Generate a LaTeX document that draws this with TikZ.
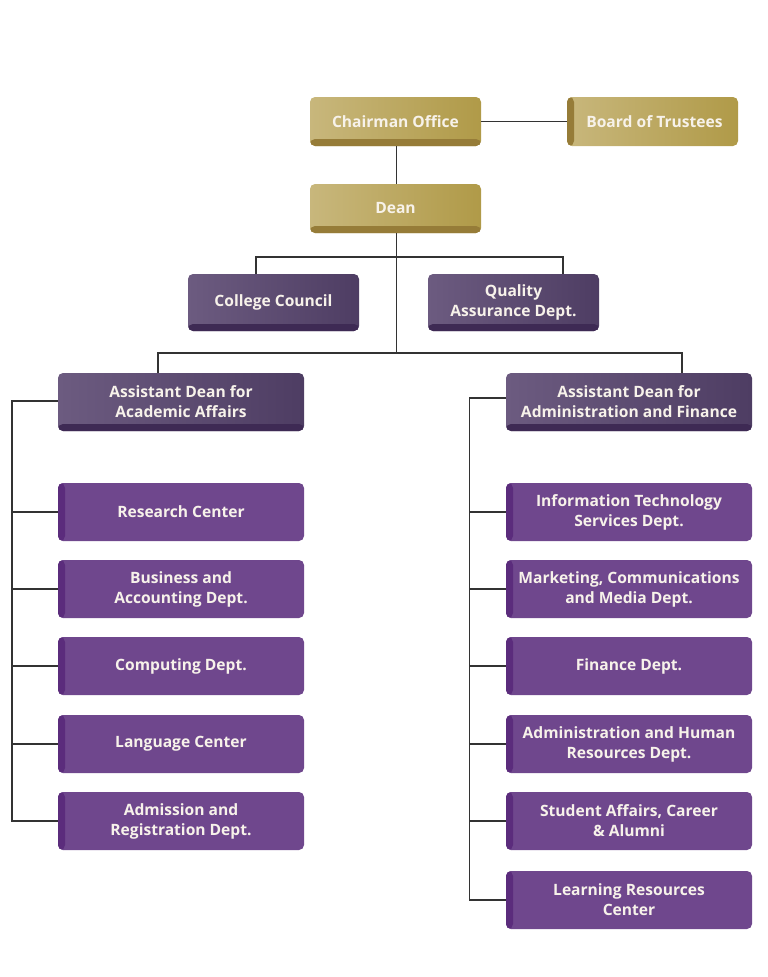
\documentclass[tikz,border=0pt]{standalone}
\usepackage{fontspec}
\setmainfont{Open Sans}
\definecolor{goldL}{HTML}{C8B77C}
\definecolor{goldD}{HTML}{B09A48}
\definecolor{goldS}{HTML}{967C38}
\definecolor{plumL}{HTML}{6C5B80}
\definecolor{plumD}{HTML}{4E3D63}
\definecolor{plumS}{HTML}{3E2A54}
\definecolor{itemF}{HTML}{6F478D}
\definecolor{itemS}{HTML}{5B2C7C}
\definecolor{lineC}{HTML}{333333}
\definecolor{txtC}{HTML}{F7F2EA}
\begin{document}
\begin{tikzpicture}[x=1pt,y=1pt,
  base/.style={rounded corners=5pt, inner sep=0pt, align=center, text=txtC,
    font=\fontsize{15.6}{20}\selectfont\bfseries},
  bstrip/.style={path picture={\fill[#1] (path picture bounding box.south west) rectangle ([yshift=7pt]path picture bounding box.south east);}},
  lstrip/.style={path picture={\fill[#1] (path picture bounding box.south west) rectangle ([xshift=7pt]path picture bounding box.north west);}},
  goldbox/.style={base, minimum width=171pt, minimum height=49pt, left color=goldL, right color=goldD, bstrip=goldS},
  goldside/.style={base, minimum width=171pt, minimum height=49pt, left color=goldL, right color=goldD, lstrip=goldS},
  plumbox/.style={base, minimum width=171pt, minimum height=57pt, left color=plumL, right color=plumD, bstrip=plumS},
  plumwide/.style={base, minimum width=246pt, minimum height=58pt, left color=plumL, right color=plumD, bstrip=plumS},
  itembox/.style={base, minimum width=246pt, minimum height=58pt, fill=itemF, lstrip=itemS},
  conn/.style={draw=lineC, line width=1.2pt}
]
\useasboundingbox (0,0) rectangle (768,-977);

\node[goldbox] (chair) at (395.5,-121.5) {Chairman Office};
\node[goldside] (board) at (652.5,-121.5) {\hspace*{4pt}Board of Trustees};
\node[goldbox] (dean) at (395.5,-208.5) {Dean};
\node[plumbox] (cc) at (273.5,-302.5) {College Council};
\node[plumbox] (qa) at (513.5,-302.5) {Quality\\Assurance Dept.};
\node[plumwide] (aa) at (181,-402) {Assistant Dean for\\Academic Affairs};
\node[plumwide] (af) at (629,-402) {Assistant Dean for\\Administration and Finance};

\node[itembox] (l1) at (181,-512) {Research Center};
\node[itembox] (l2) at (181,-589) {Business and\\Accounting Dept.};
\node[itembox] (l3) at (181,-666) {Computing Dept.};
\node[itembox] (l4) at (181,-744) {Language Center};
\node[itembox] (l5) at (181,-821) {Admission and\\Registration Dept.};

\node[itembox] (r1) at (629,-512) {Information Technology\\Services Dept.};
\node[itembox] (r2) at (629,-589) {Marketing, Communications\\and Media Dept.};
\node[itembox] (r3) at (629,-666) {Finance Dept.};
\node[itembox] (r4) at (629,-744) {Administration and Human\\Resources Dept.};
\node[itembox] (r5) at (629,-821) {Student Affairs, Career\\\&\ Alumni};
\node[itembox] (r6) at (629,-900) {Learning Resources\\Center};

\coordinate (j1) at (396.5,-257);
\coordinate (j2) at (396.5,-353);
\coordinate (lb) at (12,-401);
\coordinate (rb) at (469.5,-398);

\draw[conn] (chair) -- (board);
\draw[conn] ([xshift=1pt]chair.south) -- ([xshift=1pt]dean.north);
\draw[conn] ([xshift=1pt]dean.south) -- (j2);
\draw[conn] ([xshift=-17.5pt]cc.north) |- (j1) -| ([xshift=49.5pt]qa.north);
\draw[conn] ([xshift=-23pt]aa.north) |- (j2) -| ([xshift=53pt]af.north);

\draw[conn] (aa.west |- lb) -- (lb) |- (l5.west);
\foreach \n in {l1,l2,l3,l4} \draw[conn] (lb |- \n.west) -- (\n.west);
\draw[conn] (af.west |- rb) -- (rb) |- (r6.west);
\foreach \n in {r1,r2,r3,r4,r5} \draw[conn] (rb |- \n.west) -- (\n.west);
\end{tikzpicture}
\end{document}
